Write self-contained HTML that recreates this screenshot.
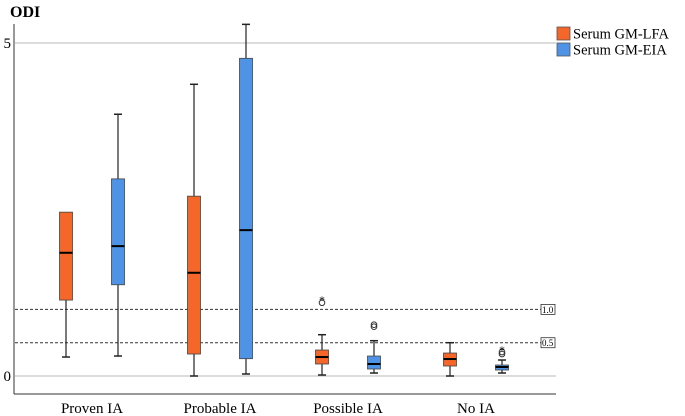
<!DOCTYPE html>
<html><head><meta charset="utf-8"><style>
html,body{margin:0;padding:0;background:#fff;}
svg{display:block;font-family:"Liberation Serif",serif;}
</style></head><body>
<svg id="chart" width="685" height="416" viewBox="0 0 685 416" xmlns="http://www.w3.org/2000/svg">
<text x="10" y="17" font-size="16" font-weight="bold">ODI</text>
<g id="axes"></g>
<g id="boxes"></g>
<g>
<rect x="557" y="27" width="13" height="13" fill="#f4662a" stroke="#555" stroke-width="0.8"/>
<text x="573" y="38.5" font-size="14.5">Serum GM-LFA</text>
<rect x="557" y="43" width="13" height="13" fill="#4f93e6" stroke="#555" stroke-width="0.8"/>
<text x="573" y="54.5" font-size="14.5">Serum GM-EIA</text>
</g>
</svg>
<script>
const categories = ["Proven IA","Probable IA","Possible IA","No IA"];
const lfaStats = [[0.285,1.14,1.85,2.46,2.46],[0,0.33,1.55,2.70,4.38],[0.015,0.18,0.285,0.39,0.62],[0,0.15,0.255,0.345,0.50]];
const eiaStats = [[0.30,1.37,1.95,2.96,3.93],[0.03,0.26,2.19,4.77,5.28],[0.045,0.105,0.18,0.30,0.53],[0.045,0.09,0.135,0.165,0.24]];
const lfaOutliers = [[],[],[1.10],[]];
const lfaExtremes = [[],[],[1.17],[]];
const eiaOutliers = [[],[],[0.74,0.77],[0.33,0.36]];
const eiaExtremes = [[],[],[],[0.42]];
const yTicks = [0,5];
const refLines = [1.0,0.5];
const refLabels = ["1.0","0.5"];

const NS="http://www.w3.org/2000/svg";
const y = v => 376 - 66.6*v;
const groupX = i => 92 + i*128;
function mk(tag, attrs, parent){const e=document.createElementNS(NS,tag);for(const k in attrs)e.setAttribute(k,attrs[k]);parent.appendChild(e);return e;}
const axes=document.getElementById('axes'), boxes=document.getElementById('boxes');

yTicks.forEach(t=>{
  const g=mk('line',{x1:15,x2:556,y1:y(t),y2:y(t),stroke:'#c8c8c8','stroke-width':1.2},axes);
  
  
  const tx=mk('text',{x:11,y:y(t)+5,'font-size':15,'text-anchor':'end'},axes);
  tx.textContent=t;
  
  
});
const ya=mk('line',{x1:14,x2:14,y1:24,y2:394,stroke:'#333','stroke-width':1},axes);


const xa=mk('line',{x1:14,x2:556,y1:394,y2:394,stroke:'#333','stroke-width':1},axes);


refLines.forEach((r,i)=>{
  const l=mk('line',{x1:15,x2:541,y1:y(r),y2:y(r),stroke:'#333','stroke-width':1,'stroke-dasharray':'3,2'},axes);
  
  
  const b=mk('rect',{x:541,y:y(r)-5,width:14,height:10,fill:'#fff',stroke:'#333','stroke-width':0.8},axes);
  
  
  const t=mk('text',{x:542,y:y(r)+3.5,'font-size':9},axes);
  t.textContent=refLabels[i];
  
  
});
categories.forEach((c,i)=>{
  const t=mk('text',{x:groupX(i),y:413,'font-size':15,'text-anchor':'middle'},axes);
  t.textContent=c;
  
  
});
function drawBox(cx, s, color, name){
  const g=mk('g',{},boxes);
  
  
  const w=13;
  mk('line',{x1:cx,x2:cx,y1:y(s[0]),y2:y(s[4]),stroke:'#222','stroke-width':1.2},g);
  if(s[0]<s[1]) mk('line',{x1:cx-4,x2:cx+4,y1:y(s[0]),y2:y(s[0]),stroke:'#222','stroke-width':1.5},g);
  if(s[4]>s[3]) mk('line',{x1:cx-4,x2:cx+4,y1:y(s[4]),y2:y(s[4]),stroke:'#222','stroke-width':1.5},g);
  mk('rect',{x:cx-w/2,y:y(s[3]),width:w,height:Math.max(1,y(s[1])-y(s[3])),fill:color,stroke:'#444','stroke-width':0.8},g);
  mk('line',{x1:cx-w/2,x2:cx+w/2,y1:y(s[2]),y2:y(s[2]),stroke:'#000','stroke-width':2},g);
}
function drawOut(cx, vals, name){
  vals.forEach(v=>{
    const c=mk('circle',{cx:cx,cy:y(v),r:2.8,fill:'none',stroke:'#333','stroke-width':1},boxes);
    
    
  });
}
function drawStar(cx, vals, name){
  vals.forEach(v=>{
    const t=mk('text',{x:cx,y:y(v)+6,'font-size':12,'text-anchor':'middle'},boxes);
    t.textContent='*';
    
    
  });
}
categories.forEach((c,i)=>{
  const xl=groupX(i)-26, xe=groupX(i)+26;
  drawBox(xl,lfaStats[i],'#f4662a','box-lfa-'+i);
  drawBox(xe,eiaStats[i],'#4f93e6','box-eia-'+i);
  drawOut(xl,lfaOutliers[i],'outlier-lfa');
  drawOut(xe,eiaOutliers[i],'outlier-eia');
  drawStar(xl,lfaExtremes[i],'extreme-lfa');
  drawStar(xe,eiaExtremes[i],'extreme-eia');
});
</script>
</body></html>
